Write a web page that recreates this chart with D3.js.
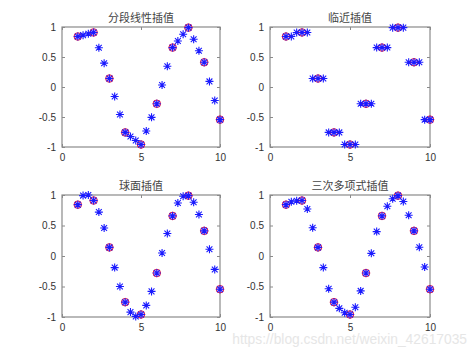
<!DOCTYPE html>
<html><head><meta charset="utf-8">
<script src="https://cdn.jsdelivr.net/npm/d3@7"></script>
<style>
html,body{margin:0;padding:0;background:#fff;}
svg{display:block;}
</style></head>
<body>
<script>
const xData = [1,2,3,4,5,6,7,8,9,10];
const yData = [0.8415,0.9093,0.1411,-0.7568,-0.9589,-0.2794,0.6570,0.9894,0.4121,-0.5440];
const xi = [1,1.333,1.667,2,2.333,2.667,3,3.333,3.667,4,4.333,4.667,5,5.333,5.667,6,6.333,6.667,7,7.333,7.667,8,8.333,8.667,9,9.333,9.667,10];
const yLinear = [0.8415,0.8641,0.8867,0.9093,0.6532,0.3972,0.1411,-0.1582,-0.4575,-0.7568,-0.8242,-0.8915,-0.9589,-0.7324,-0.5059,-0.2794,0.0327,0.3449,0.6570,0.7678,0.8786,0.9894,0.7970,0.6045,0.4121,0.0934,-0.2253,-0.5440];
const yNearest = [0.8415,0.8415,0.9093,0.9093,0.9093,0.1411,0.1411,0.1411,-0.7568,-0.7568,-0.7568,-0.9589,-0.9589,-0.9589,-0.2794,-0.2794,-0.2794,0.6570,0.6570,0.6570,0.9894,0.9894,0.9894,0.4121,0.4121,0.4121,-0.5440,-0.5440];
const ySpline = [0.8415,0.99,1.00,0.9093,0.72,0.46,0.1411,-0.19,-0.50,-0.7568,-0.92,-0.99,-0.9589,-0.81,-0.58,-0.2794,0.05,0.37,0.6570,0.87,0.98,0.9894,0.88,0.68,0.4121,0.11,-0.22,-0.5440];
const yPchip = [0.8415,0.8892,0.9068,0.9093,0.7715,0.4629,0.1411,-0.1899,-0.5365,-0.7568,-0.8581,-0.9310,-0.9589,-0.8411,-0.5722,-0.2794,0.0437,0.3999,0.6570,0.8159,0.9396,0.9894,0.8931,0.6684,0.4121,0.1424,-0.1797,-0.5440];
const titles = ["分段线性插值","临近插值","球面插值","三次多项式插值"];
const xTicks = [0,5,10];
const yTicks = [-1,-0.5,0,0.5,1];

const W = 474, H = 355;
const svg = d3.select("body").append("svg").attr("width", W).attr("height", H);

const panels = [
  {x0:62, x1:220, y0:27, y1:147, yi:yLinear, t:titles[0]},
  {x0:270, x1:430, y0:27, y1:147, yi:yNearest, t:titles[1]},
  {x0:62, x1:220, y0:195, y1:317, yi:ySpline, t:titles[2]},
  {x0:270, x1:430, y0:195, y1:317, yi:yPchip, t:titles[3]}
];

const fmt = d => (d === 0 ? "0" : String(d));
const boxColor = "#8a8a8a";
const textColor = "#333";

panels.forEach(p => {
  const x = d3.scaleLinear().domain([0,10]).range([p.x0, p.x1]);
  const y = d3.scaleLinear().domain([-1,1]).range([p.y1, p.y0]);
  const g = svg.append("g");

  const styleAxis = (sel, labels) => {
    sel.select(".domain").remove();
    sel.selectAll(".tick line").attr("stroke", boxColor);
    sel.selectAll(".tick text").attr("fill", textColor)
      .style("font-family", "Liberation Sans, Arial, sans-serif").style("font-size", "10px");
    if (!labels) sel.selectAll(".tick text").remove();
  };

  g.append("g").attr("transform", `translate(0,${p.y1})`)
    .call(d3.axisBottom(x).tickValues(xTicks).tickFormat(fmt).tickSize(-3).tickPadding(7))
    .call(s => styleAxis(s, true));
  g.append("g").attr("transform", `translate(0,${p.y0})`)
    .call(d3.axisTop(x).tickValues(xTicks).tickSize(-3))
    .call(s => styleAxis(s, false));
  g.append("g").attr("transform", `translate(${p.x0},0)`)
    .call(d3.axisLeft(y).tickValues(yTicks).tickFormat(fmt).tickSize(-3).tickPadding(6))
    .call(s => styleAxis(s, true));
  g.append("g").attr("transform", `translate(${p.x1},0)`)
    .call(d3.axisRight(y).tickValues(yTicks).tickSize(-3))
    .call(s => styleAxis(s, false));

  g.append("rect").attr("x", p.x0).attr("y", p.y0)
    .attr("width", p.x1 - p.x0).attr("height", p.y1 - p.y0)
    .attr("fill", "none").attr("stroke", boxColor).attr("stroke-width", 1.2);

  g.append("text").attr("x", (p.x0 + p.x1)/2).attr("y", p.y0 - 5)
    .attr("text-anchor", "middle").attr("fill", "#444")
    .style("font-family", "Noto Sans CJK SC, sans-serif").style("font-size", "11px")
    .text(p.t);

  // red circles
  g.selectAll("circle.o").data(xData.map((d,i) => [d, yData[i]])).enter()
    .append("circle").attr("class","o")
    .attr("cx", d => x(d[0])).attr("cy", d => y(d[1])).attr("r", 3.8)
    .attr("fill", "rgba(170,90,200,0.45)").attr("stroke", "#e0204a").attr("stroke-width", 1);

  // blue asterisks
  const s = 4, sd = 2.9;
  const star = `M${-s},0L${s},0M0,${-s}L0,${s}M${-sd},${-sd}L${sd},${sd}M${-sd},${sd}L${sd},${-sd}`;
  g.selectAll("path.star").data(xi.map((d,i) => [d, p.yi[i]])).enter()
    .append("path").attr("class","star")
    .attr("transform", d => `translate(${x(d[0])},${y(d[1])})`)
    .attr("d", star).attr("stroke", "#1a1aff").attr("stroke-width", 1.1).attr("fill", "none");
});

svg.append("text").attr("x", 467).attr("y", 344).attr("text-anchor", "end")
  .attr("fill", "#e6e6e6").style("font-family", "Liberation Sans, Arial, sans-serif")
  .style("font-size", "13.8px").text("https://blog.csdn.net/weixin_42617035");
</script>
</body></html>
